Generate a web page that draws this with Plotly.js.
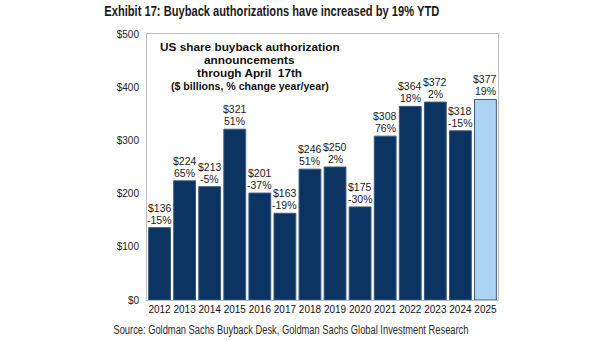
<!DOCTYPE html>
<html><head><meta charset="utf-8">
<script src="https://cdn.plot.ly/plotly-3.0.1.min.js"></script>
<style>html,body{margin:0;padding:0;background:#fff}#c{width:605px;height:341px}</style>
</head><body><div id="c"></div>
<script>
const years = ['2012','2013','2014','2015','2016','2017','2018','2019','2020','2021','2022','2023','2024','2025'];
const values = [136,224,213,321,201,163,246,250,175,308,364,372,318,377];
const changes = ['-15%','65%','-5%','51%','-37%','-19%','51%','2%','-30%','76%','18%','2%','-15%','19%'];
const yTickVals = [0,100,200,300,400,500];
const yTickText = ['$0','$100','$200','$300','$400','$500'];

const navy = '#0b3462', light = '#acd3f4';
const colors = years.map((y,i)=> i===years.length-1 ? light : navy);
const xIdx = years.map((y,i)=>i);

const ann = [];
const lab = {size:10.5, color:'#1a1a1a', family:'Liberation Sans, Arial, sans-serif'};
years.forEach((y,i)=>{
  ann.push({x:i, y:values[i], xref:'x', yref:'y', text:changes[i], showarrow:false, yanchor:'bottom', yshift:0, font:lab});
  ann.push({x:i, y:values[i], xref:'x', yref:'y', text:'$'+values[i], showarrow:false, yanchor:'bottom', yshift:12, font:lab});
});
const boxFont = {size:11.8, color:'#111', family:'Liberation Sans, Arial, sans-serif'};
const boxLines = ['<b>US share buyback authorization</b>','<b>announcements</b>','<b>through April  17th</b>'];
const boxY = [47,60,73];
boxLines.forEach((t,i)=>ann.push({xref:'paper', yref:'paper', x:0.293, y:(300-boxY[i])/266, text:t, showarrow:false, xanchor:'center', yanchor:'middle', font:boxFont}));
ann.push({xref:'paper', yref:'paper', x:0.293, y:(300-86)/266, text:'<b>($ billions, % change year/year)</b>', showarrow:false, xanchor:'center', yanchor:'middle', font:{size:10.6,color:'#111',family:'Liberation Sans, Arial, sans-serif'}});
// title & source
ann.push({xref:'paper', yref:'paper', x:(272-147)/351, y:(300-10)/266, xanchor:'center', yanchor:'middle', showarrow:false,
  text:'<b>Exhibit 17: Buyback authorizations have increased by 19% YTD</b>', font:{size:15,color:'#1a1a1a',family:'Liberation Sans, Arial, sans-serif'}});
ann.push({xref:'paper', yref:'paper', x:(290.5-147)/351, y:(300-330)/266, xanchor:'center', yanchor:'middle', showarrow:false,
  text:'Source: Goldman Sachs Buyback Desk, Goldman Sachs Global Investment Research', font:{size:12.5,color:'#2a2a2a',family:'Liberation Sans, Arial, sans-serif'}});

Plotly.newPlot('c', [{
  type:'bar', x:xIdx, y:values,
  marker:{color:colors, line:{color:'#3a5a80', width:1}},
  hoverinfo:'none'
}], {
  width:605, height:341,
  margin:{l:147, r:107, t:34, b:41},
  paper_bgcolor:'#fff', plot_bgcolor:'#fff',
  bargap:0.13,
  showlegend:false,
  xaxis:{range:[-0.5, years.length-0.5], tickvals:xIdx, ticktext:years, tickangle:0, tickfont:{size:10,color:'#111',family:'Liberation Sans, Arial, sans-serif'}, ticks:'', showline:true, linecolor:'#bdbdbd', linewidth:1, mirror:true, showgrid:false, zeroline:false, automargin:false},
  yaxis:{range:[0,500], tickvals:yTickVals, ticktext:yTickText, tickfont:{size:10,color:'#222',family:'Liberation Sans, Arial, sans-serif'}, ticks:'', ticklen:0, ticklabelstandoff:5, showgrid:false, zeroline:false, showline:true, linecolor:'#bdbdbd', linewidth:1, mirror:true, automargin:false},
  annotations:ann
}, {staticPlot:true}).then(gd=>{
  const fit = {'Exhibit':335, 'Source:':355};
  gd.querySelectorAll('.annotation-text').forEach(t=>{
    const s = t.textContent;
    Object.keys(fit).forEach(k=>{
      if (s.indexOf(k)===0){ t.setAttribute('textLength', fit[k]); t.setAttribute('lengthAdjust','spacingAndGlyphs'); }
    });
  });
});
</script></body></html>
